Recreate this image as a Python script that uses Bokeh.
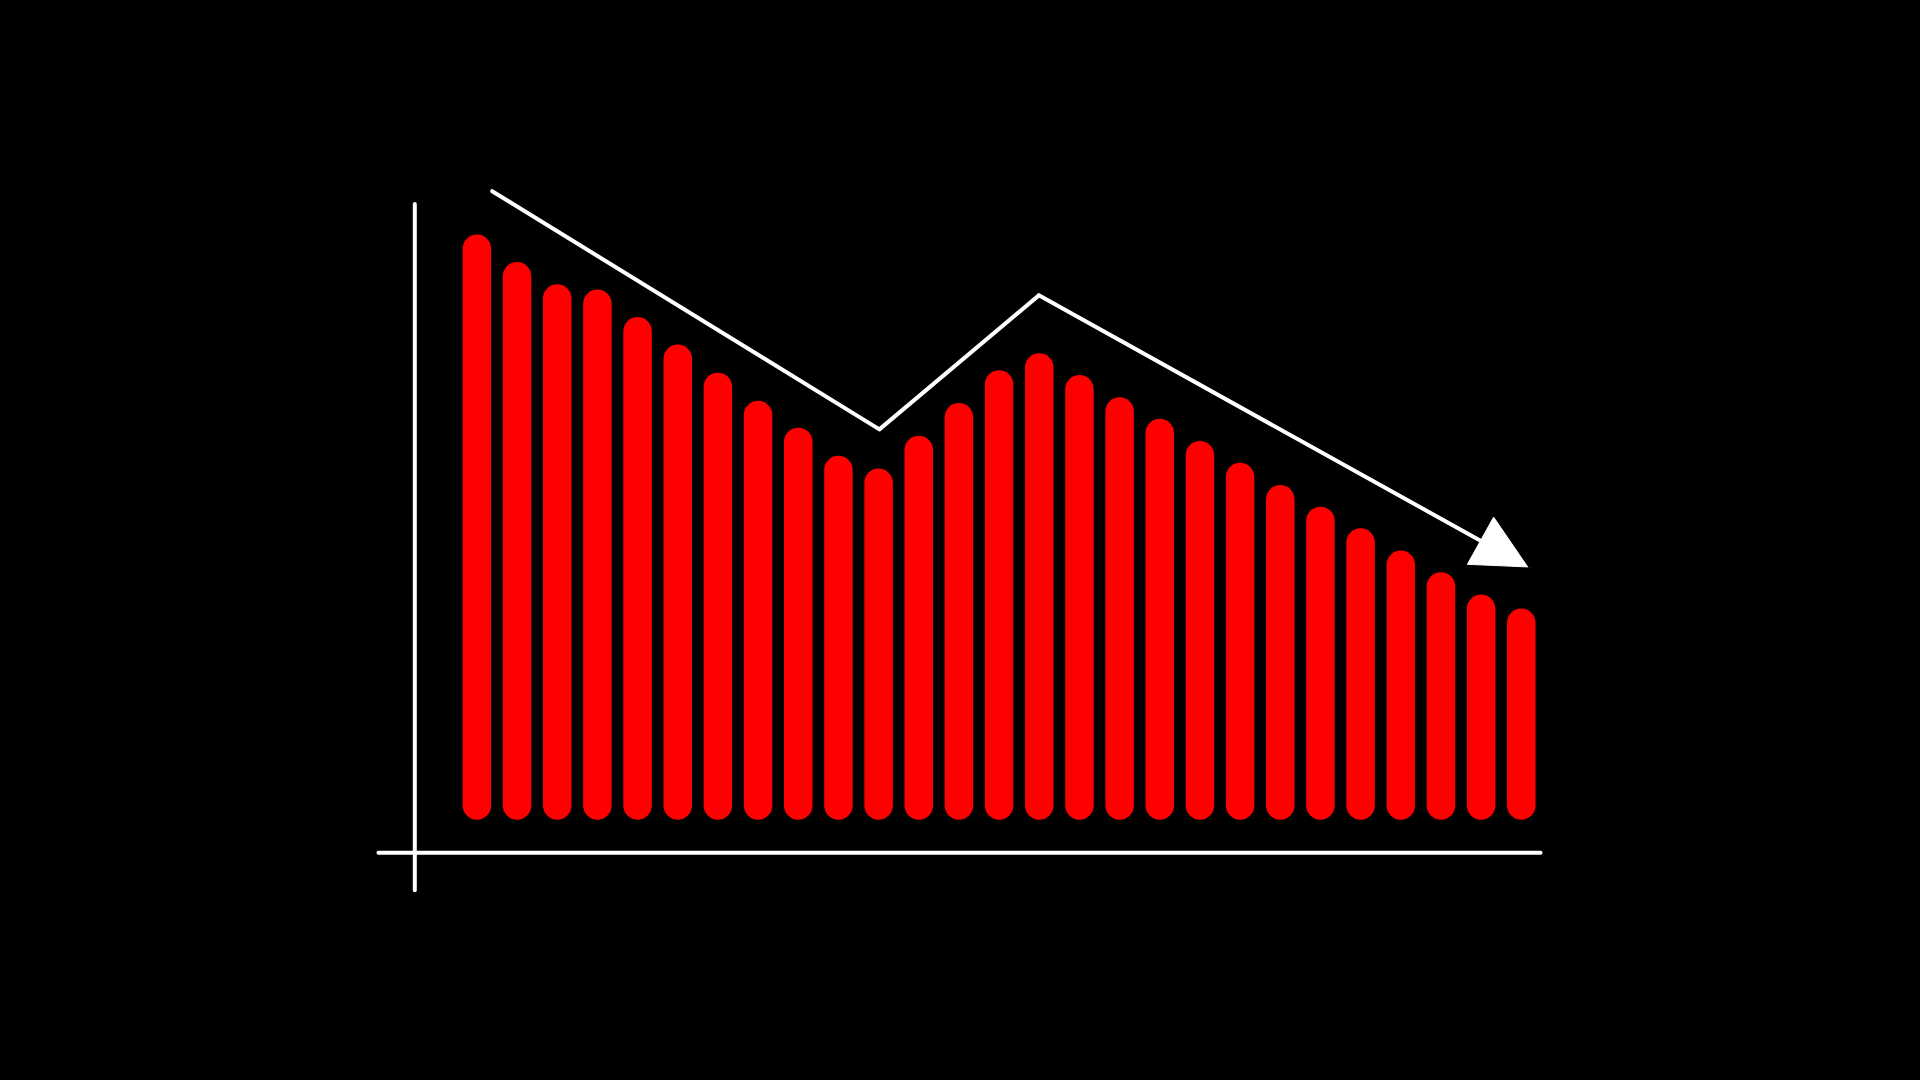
from bokeh.plotting import figure
from bokeh.models import Range1d, Arrow, NormalHead, ColumnDataSource, GlobalInlineStyleSheet
from bokeh.embed import file_html
from bokeh.resources import INLINE

# ---- data ----
bar_index = list(range(27))
bar_values = [100.0, 95.3, 91.5, 90.6, 85.9, 81.2, 76.4, 71.6, 67.0, 62.2,
              60.0, 65.6, 71.2, 76.8, 79.7, 76.0, 72.2, 68.5, 64.7, 61.0,
              57.2, 53.5, 49.8, 46.0, 42.3, 38.5, 36.1]
trend_x = [0.38, 10.02, 13.99, 26.16]
trend_y = [107.4, 66.7, 89.6, 43.2]

# ---- layout ----
W, H = 1904, 1064
X_RANGE = (-11.86, 35.54)
Y_RANGE = (-41.81, 139.98)
BAR_PX = 28.5
cap = (Y_RANGE[1] - Y_RANGE[0]) / H * (BAR_PX / 2)

p = figure(width=W, height=H, output_backend="svg", toolbar_location=None,
           x_range=Range1d(*X_RANGE), y_range=Range1d(*Y_RANGE),
           x_axis_location=None, y_axis_location=None, min_border=0)
p.background_fill_color = "black"
p.border_fill_color = "black"
p.outline_line_color = None
p.xgrid.visible = False
p.ygrid.visible = False
p.stylesheets = [GlobalInlineStyleSheet(css="html, body { background-color: #000; }")]

# bars as thick round-capped segments
src = ColumnDataSource(dict(x=bar_index,
                            y0=[cap] * len(bar_values),
                            y1=[v - cap for v in bar_values]))
p.segment(x0="x", y0="y0", x1="x", y1="y1", source=src,
          line_color="#ff0000", line_width=BAR_PX, line_cap="round")

# axes lines (crosshair style)
p.segment(x0=[-2.45, -1.546], y0=[-5.64, -12.03], x1=[26.48, -1.546], y1=[-5.64, 105.2],
          line_color="white", line_width=4, line_cap="round")

# trend line with arrow
p.line(trend_x[:3], trend_y[:3], line_color="white", line_width=4,
       line_cap="round", line_join="round")
p.add_layout(Arrow(end=NormalHead(size=54, fill_color="white", line_color="white", line_width=1),
                   x_start=trend_x[2], y_start=trend_y[2], x_end=trend_x[3], y_end=trend_y[3],
                   line_color="white", line_width=4, line_cap="round"))

open("out.html", "w").write(file_html(p, INLINE))
